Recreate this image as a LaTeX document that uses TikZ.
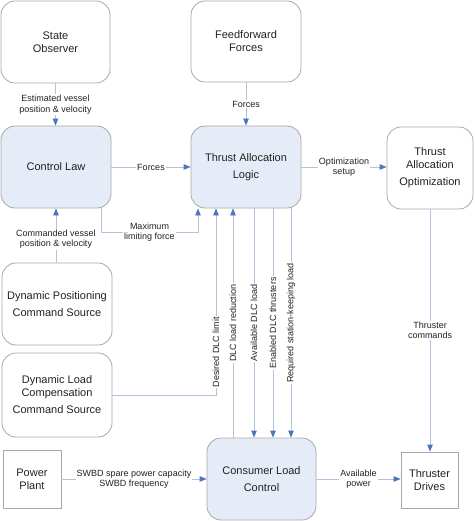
\documentclass[tikz,border=0pt]{standalone}
\usepackage{fontspec}
\setmainfont{Liberation Sans}
\usetikzlibrary{arrows.meta}
\definecolor{linec}{HTML}{B4C3DC}
\definecolor{arrc}{HTML}{4A76BE}
\definecolor{boxc}{HTML}{A8A8A8}
\definecolor{fillc}{HTML}{E6ECF7}
\definecolor{txt}{HTML}{222222}
\begin{document}
\begin{tikzpicture}[x=1pt,y=-1pt,
  box/.style={draw=boxc, line width=0.8pt, rounded corners=14pt, align=center,
    font=\fontsize{11}{13}\selectfont, text=txt, inner sep=0pt},
  sbox/.style={box, rounded corners=0pt},
  fbox/.style={box, fill=fillc},
  conn/.style={draw=linec, line width=0.8pt},
  arr/.style={conn, -{Triangle[length=7pt,width=5.5pt,color=arrc]}},
  lbl/.style={fill=white, inner sep=1pt, align=center,
    font=\fontsize{9}{10.5}\selectfont, text=txt},
]
\useasboundingbox (0,0) rectangle (474,521);

% boxes
\node[box, minimum width=109pt, minimum height=82pt] (so) at (55.5,42) {State\\Observer};
\node[box, minimum width=110pt, minimum height=81pt] (ff) at (246,41.5) {Feedforward\\Forces};
\node[fbox, minimum width=110pt, minimum height=82pt] (cl) at (56,167) {Control Law};
\node[fbox, minimum width=110pt, minimum height=82pt] (tal) at (246,167) {Thrust Allocation\\[4pt]Logic};
\node[box, minimum width=86pt, minimum height=82pt] (tao) at (430,168) {Thrust\\Allocation\\[4pt]Optimization};
\node[box, minimum width=110pt, minimum height=82pt] (dp) at (57,304) {Dynamic Positioning\\[4pt]Command Source};
\node[box, minimum width=110pt, minimum height=84pt] (dlc) at (57,395) {Dynamic Load\\Compensation\\[4pt]Command Source};
\node[sbox, minimum width=58pt, minimum height=58pt] (pp) at (32,479) {Power\\Plant};
\node[fbox, minimum width=109pt, minimum height=82pt] (clc) at (261.5,479) {Consumer Load\\[4pt]Control};
\node[sbox, minimum width=57pt, minimum height=56pt] (td) at (429.5,480) {Thruster\\Drives};

% helper coordinates
\coordinate (m1) at (101,232);
\coordinate (m2) at (198,232);
\coordinate (d1) at (216,395);
\coordinate (v1) at (233,0);
\coordinate (v2) at (254,0);
\coordinate (v3) at (273,0);
\coordinate (v4) at (291,0);

% connectors
\draw[arr] (so.south) -- node[lbl]{Estimated vessel\\position \& velocity} (so.south |- cl.north);
\draw[arr] (cl.south |- dp.north) -- node[lbl, pos=0.43]{Commanded vessel\\position \& velocity} (cl.south);
\draw[arr] (cl) -- node[lbl]{Forces} (tal);
\draw[arr] (ff) -- node[lbl]{Forces} (tal);
\draw[arr] (cl.south -| m1) -- (m1) -- node[lbl]{Maximum\\limiting force} (m2) -- (tal.south -| m2);
\draw[arr] (tal.east) -- node[lbl]{Optimization\\setup} (tal.east -| tao.west);
\draw[arr] (tao.south) -- node[lbl]{Thruster\\commands} (tao.south |- td.north);
\draw[arr] (pp.east) -- node[lbl]{SWBD spare power capacity\\SWBD frequency} (pp.east -| clc.west);
\draw[arr] (clc.east) -- node[lbl]{Available\\power} (clc.east -| td.west);
\draw[arr] (dlc.east) -- (d1) -- node[lbl, rotate=90, pos=0.23]{Desired DLC limit} (tal.south -| d1);
\draw[arr] (clc.north -| v1) -- node[lbl, rotate=90]{DLC load reduction} (tal.south -| v1);
\draw[arr] (tal.south -| v2) -- node[lbl, rotate=90]{Available DLC load} (clc.north -| v2);
\draw[arr] (tal.south -| v3) -- node[lbl, rotate=90]{Enabled DLC thrusters} (clc.north -| v3);
\draw[arr] (tal.south -| v4) -- node[lbl, rotate=90]{Required station-keeping load} (clc.north -| v4);
\end{tikzpicture}
\end{document}
